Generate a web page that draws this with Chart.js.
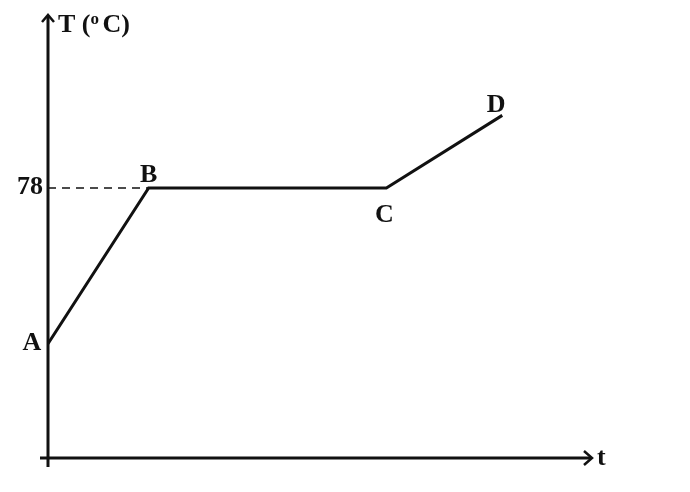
<!DOCTYPE html>
<html>
<head>
<meta charset="utf-8">
<script src="https://cdn.jsdelivr.net/npm/chart.js@4"></script>
<style>
  html, body { margin: 0; padding: 0; background: #fff; }
  canvas { display: block; }
</style>
</head>
<body>
<canvas id="myChart" width="690" height="492"></canvas>
<script>
// heating curve: A -> B (warming), B -> C (boiling at 78), C -> D (vapour warming)
const pointLabels = ['A', 'B', 'C', 'D'];
const times = [0, 1.85, 6.22, 8.35];
const temps = [33, 78, 78, 99];
const tickValues = [78];
const yTitle = ['T (', 'o', ' C)'];
const xTitle = 't';

// label offsets from each point (center x, text baseline)
const labelOffsets = [[-16, 6], [0, -6], [-2, 34], [-6, -3]];
const FONT = '"Liberation Serif", "Times New Roman", serif';

const axesPlugin = {
    id: 'axesPlugin',
    afterDraw(chart) {
        const c = chart.ctx;
        const x = chart.scales.x, y = chart.scales.y;
        const x0 = x.getPixelForValue(0), y0 = y.getPixelForValue(0);
        const xEnd = x.right, yEnd = y.top;
        c.save();
        c.strokeStyle = '#111';
        c.lineWidth = 3;
        // y axis
        c.beginPath();
        c.moveTo(x0, y0 + 9);
        c.lineTo(x0, yEnd + 1);
        c.stroke();
        // x axis
        c.beginPath();
        c.moveTo(x0 - 8, y0);
        c.lineTo(xEnd - 1, y0);
        c.stroke();
        // arrow heads
        c.lineWidth = 2.5;
        c.beginPath();
        c.moveTo(x0 - 6, yEnd + 7);
        c.lineTo(x0, yEnd);
        c.lineTo(x0 + 6, yEnd + 7);
        c.stroke();
        c.beginPath();
        c.moveTo(xEnd - 8, y0 - 7);
        c.lineTo(xEnd, y0);
        c.lineTo(xEnd - 8, y0 + 7);
        c.stroke();

        c.fillStyle = '#111';
        c.textBaseline = 'alphabetic';
        const big = 'bold 26px ' + FONT;
        c.font = big;
        // y axis title with raised small "o"
        c.textAlign = 'left';
        let tx = x0 + 10;
        const ty = yEnd + 17;
        c.fillText(yTitle[0], tx, ty);
        tx += c.measureText(yTitle[0]).width;
        c.font = 'bold 17px ' + FONT;
        c.fillText(yTitle[1], tx, ty - 8);
        tx += c.measureText(yTitle[1]).width - 3;
        c.font = big;
        c.fillText(yTitle[2], tx, ty);
        // x axis title
        c.fillText(xTitle, xEnd + 5, y0 + 7);
        // tick labels
        c.textAlign = 'right';
        tickValues.forEach(v => c.fillText(String(v), x0 - 5, y.getPixelForValue(v) + 6));
        // point labels
        c.textAlign = 'center';
        pointLabels.forEach((lab, i) => {
            const px = x.getPixelForValue(times[i]) + labelOffsets[i][0];
            const py = y.getPixelForValue(temps[i]) + labelOffsets[i][1];
            c.fillText(lab, px, py);
        });
        c.restore();
    }
};

const ctx = document.getElementById('myChart').getContext('2d');
const myChart = new Chart(ctx, {
    type: 'line',
    data: {
        datasets: [{
            data: times.map((t, i) => ({ x: t, y: temps[i] })),
            borderColor: '#111',
            borderWidth: 3,
            pointRadius: 0,
            tension: 0
        }, {
            data: [{ x: 0, y: tickValues[0] }, { x: times[1], y: tickValues[0] }],
            borderColor: '#111',
            borderWidth: 1.5,
            borderDash: [8, 6],
            pointRadius: 0
        }]
    },
    options: {
        responsive: false,
        animation: false,
        devicePixelRatio: 1,
        layout: {
            padding: { left: 48, right: 98, top: 15, bottom: 34 }
        },
        scales: {
            x: { type: 'linear', min: 0, max: 10, display: false },
            y: { type: 'linear', min: 0, max: 128, display: false }
        },
        plugins: {
            legend: { display: false },
            tooltip: { enabled: false }
        }
    },
    plugins: [axesPlugin]
});
</script>
</body>
</html>
